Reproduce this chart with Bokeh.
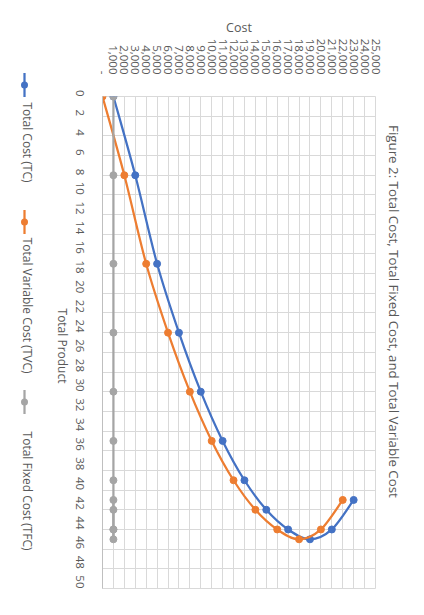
import math

from bokeh.plotting import figure
from bokeh.models import (Range1d, SingleIntervalTicker, FixedTicker, NumeralTickFormatter,
                          LinearAxis)
from bokeh.embed import file_html
from bokeh.resources import INLINE

# data (chart is rotated 90 degrees clockwise)
total_product = [0, 8, 17, 24, 30, 35, 39, 42, 44, 45, 44, 41]
total_fixed_cost = [1000, 1000, 1000, 1000, 1000, 1000, 1000, 1000, 1000, 1000, 1000, 1000]
total_variable_cost = [0, 2000, 4000, 6000, 8000, 10000, 12000, 14000, 16000, 18000, 20000, 22000]
total_cost = [1000, 3000, 5000, 7000, 9000, 11000, 13000, 15000, 17000, 19000, 21000, 23000]

series_names = ["Total Cost (TC)", "Total Variable Cost (TVC)", "Total Fixed Cost (TFC)"]
series_values = [total_cost, total_variable_cost, total_fixed_cost]
series_colors = ["#4472C4", "#ED7D31", "#A5A5A5"]

title_text = "Figure 2: Total Cost, Total Fixed Cost, and Total Variable Cost"
x_title = "Total Product"
y_title = "Cost"

FONT = "Open Sans"
TEXT_COLOR = "#595959"
GRID_COLOR = "#d9d9d9"
W, H = 424, 612
FRAME = dict(left=102, right=375, top=96, bottom=588)


def smooth_segments(xs, ys):
    # bezier control points like a spreadsheet "smoothed line"
    n = len(xs)
    out = {k: [] for k in ("x0", "y0", "x1", "y1", "cx0", "cy0", "cx1", "cy1")}
    for i in range(n - 1):
        a = max(i - 1, 0)
        d = min(i + 2, n - 1)
        out["x0"].append(xs[i])
        out["y0"].append(ys[i])
        out["x1"].append(xs[i + 1])
        out["y1"].append(ys[i + 1])
        out["cx0"].append(xs[i] + (xs[i + 1] - xs[a]) / 6)
        out["cy0"].append(ys[i] + (ys[i + 1] - ys[a]) / 6)
        out["cx1"].append(xs[i + 1] - (xs[d] - xs[i]) / 6)
        out["cy1"].append(ys[i + 1] - (ys[d] - ys[i]) / 6)
    return out


def text_axis(anchors, texts, size, standoff):
    # an axis with no line or ticks, used only to write rotated texts
    # (reading downwards) anchored at given page-pixel heights
    ticks = [-c for c in anchors]
    ax = LinearAxis(y_range_name="py", ticker=FixedTicker(ticks=ticks),
                    major_label_overrides=dict(zip(ticks, texts)),
                    major_label_orientation=-math.pi / 2,
                    major_label_standoff=standoff,
                    major_label_text_font=FONT, major_label_text_font_size=size,
                    major_label_text_color=TEXT_COLOR,
                    axis_line_color=None, major_tick_line_color=None,
                    minor_tick_line_color=None)
    return ax


p = figure(width=W, height=H, x_range=Range1d(0, 25000), y_range=Range1d(50, 0),
           x_axis_location="above", toolbar_location=None, output_backend="svg",
           min_border_left=FRAME["left"], min_border_right=W - FRAME["right"],
           min_border_top=FRAME["top"], min_border_bottom=H - FRAME["bottom"])
p.outline_line_color = GRID_COLOR

# page-pixel ranges for the decorations around the frame (y negated)
p.extra_x_ranges = {"px": Range1d(FRAME["left"], FRAME["right"])}
p.extra_y_ranges = {"py": Range1d(-FRAME["bottom"], -FRAME["top"])}

xa = p.xaxis[0]
xa.ticker = SingleIntervalTicker(interval=1000, num_minor_ticks=0)
xa.formatter = NumeralTickFormatter(format="0,0")
xa.major_label_overrides = {0: "-"}
xa.major_label_orientation = -math.pi / 2
xa.major_label_standoff = 16
xa.axis_label = y_title
xa.axis_label_standoff = 0
xa.axis_label_text_font = FONT
xa.axis_label_text_font_size = "12.5px"
xa.axis_label_text_font_style = "normal"
xa.axis_label_text_color = TEXT_COLOR
xa.axis_line_color = None

ya = p.yaxis[0]
ya.ticker = SingleIntervalTicker(interval=2, num_minor_ticks=0)
ya.major_label_orientation = -math.pi / 2
ya.major_label_standoff = 17
ya.axis_line_color = "#bfbfbf"

for ax in (xa, ya):
    ax.major_tick_line_color = None
    ax.minor_tick_line_color = None
    ax.major_label_text_font = FONT
    ax.major_label_text_font_size = "11.5px"
    ax.major_label_text_color = TEXT_COLOR

p.xgrid[0].ticker = SingleIntervalTicker(interval=1000)
p.ygrid[0].ticker = SingleIntervalTicker(interval=2)
p.grid.grid_line_color = GRID_COLOR
p.grid.grid_line_width = 1

for vals, color in zip(series_values, series_colors):
    seg = smooth_segments(vals, total_product)
    p.bezier(x0=seg["x0"], y0=seg["y0"], x1=seg["x1"], y1=seg["y1"],
             cx0=seg["cx0"], cy0=seg["cy0"], cx1=seg["cx1"], cy1=seg["cy1"],
             line_color=color, line_width=2.25)
    p.scatter(x=vals, y=total_product, size=7, marker="circle",
              fill_color=color, line_color=color)

# x-axis title and legend texts (left side: texts end at the anchor),
# chart title on the right (anchor found by trial)
p.add_layout(text_axis([383], [x_title], "12px", 0), "left")
p.add_layout(text_axis([182, 373, 550], series_names, "12px", 9), "left")
p.add_layout(text_axis([354], [title_text], "13.3px", 12), "right")

# legend keys: vertical line with a dot
leg_key_centers = [84.5, 221.5, 401.5]
for cy, color in zip(leg_key_centers, series_colors):
    p.segment(x0=[24], y0=[-(cy - 12)], x1=[24], y1=[-(cy + 12)],
              line_color=color, line_width=2.25, level="overlay",
              x_range_name="px", y_range_name="py")
    p.segment(x0=[24], y0=[-cy + 0.05], x1=[24], y1=[-cy - 0.05],
              line_color=color, line_width=7, line_cap="round", level="overlay",
              x_range_name="px", y_range_name="py")

open("out.html", "w").write(file_html(p, INLINE))
